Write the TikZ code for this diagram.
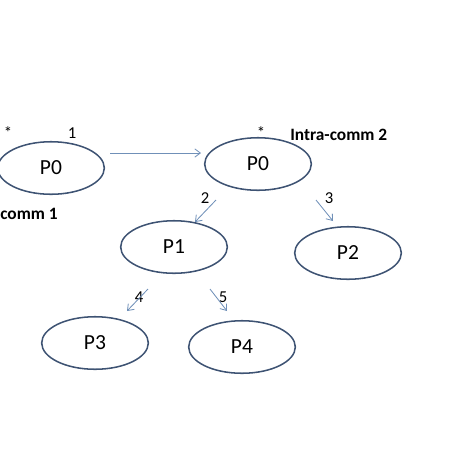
\documentclass[tikz,border=0pt]{standalone}
\usepackage{fontspec}
\setmainfont{Carlito}
\usetikzlibrary{shapes.geometric,arrows.meta}
\definecolor{ringblue}{HTML}{3E5373}
\definecolor{arrowblue}{HTML}{7090B8}
\tikzset{
  proc/.style={shape=ellipse,draw=ringblue,line width=1.1pt,minimum width=2.7cm,minimum height=1.33cm,inner sep=0pt,font=\fontsize{15.5}{17}\selectfont},
  msg/.style={draw=arrowblue,line width=0.6pt,-{Straight Barb[length=4pt,width=6pt]}},
  num/.style={font=\fontsize{12}{13}\selectfont,inner sep=0pt},
  tag/.style={font=\bfseries\fontsize{12.5}{14}\selectfont,inner sep=0pt}
}
\begin{document}
\begin{tikzpicture}[x=0.02532cm,y=-0.02532cm]
  \useasboundingbox (0,0) rectangle (474,474);
  \clip (0,0) rectangle (474,474);
  % processes
  \node[proc] (a0) at (51,168) {P0};
  \node[proc] (b0) at (258,164) {P0};
  \node[proc] (p1) at (174,247) {P1};
  \node[proc] (p2) at (348,253) {P2};
  \node[proc] (p3) at (95,343) {P3};
  \node[proc] (p4) at (242,347) {P4};
  % labels
  \node[num] (s1) at (8,133) {*};
  \node[num] (n1) at (72,133) {1};
  \node[num] (s2) at (261,133) {*};
  \node[tag,anchor=west] (t2) at (290,135) {Intra-comm 2};
  \node[tag,anchor=west] (t1) at (0,214) {comm 1};
  \node[num] (n2) at (205,198) {2};
  \node[num] (n3) at (329,198) {3};
  \node[num] (n4) at (139,297) {4};
  \node[num] (n5) at (223,297) {5};
  % arrow ends
  \coordinate (e1a) at (110,153);
  \coordinate (e1b) at (201,153);
  \coordinate (e2a) at (216,200);
  \coordinate (e2b) at (195,222);
  \coordinate (e3a) at (316,200);
  \coordinate (e3b) at (333,221);
  \coordinate (e4a) at (148,289);
  \coordinate (e4b) at (127,311);
  \coordinate (e5a) at (210,289);
  \coordinate (e5b) at (227,311);
  \draw[msg] (e1a) -- (e1b);
  \draw[msg] (e2a) -- (e2b);
  \draw[msg] (e3a) -- (e3b);
  \draw[msg] (e4a) -- (e4b);
  \draw[msg] (e5a) -- (e5b);
\end{tikzpicture}
\end{document}
